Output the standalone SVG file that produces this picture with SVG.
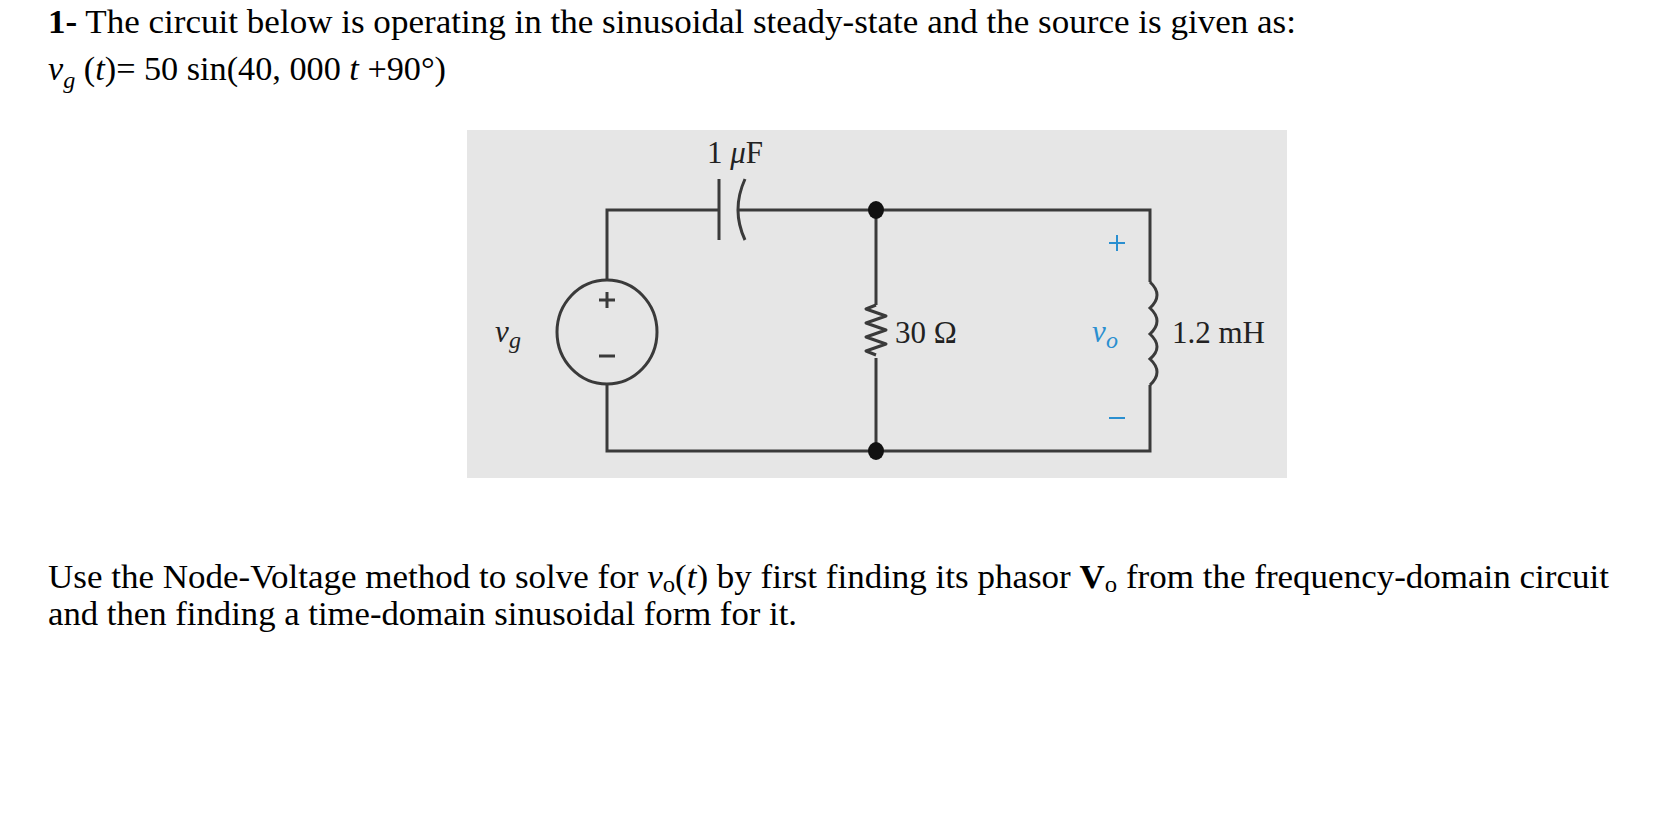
<svg xmlns="http://www.w3.org/2000/svg" width="1663" height="828" viewBox="0 0 1663 828">
<style>
.t{font-family:"Liberation Serif",serif;font-size:34px;fill:#000}
.w{stroke:#3a3a3a;stroke-width:3;fill:none}
.c{font-family:"Liberation Serif",serif;font-size:31px;fill:#222}
.b{fill:#2a8fd0}
</style>
<rect width="1663" height="828" fill="#fff"/>
<text class="t" x="48" y="33" textLength="1248" lengthAdjust="spacingAndGlyphs"><tspan font-weight="bold">1-</tspan> The circuit below is operating in the sinusoidal steady-state and the source is given as:</text>
<text class="t" x="48" y="80" textLength="398" lengthAdjust="spacingAndGlyphs"><tspan font-style="italic">v</tspan><tspan font-style="italic" font-size="24" dy="8">g</tspan><tspan dy="-8"> (</tspan><tspan font-style="italic">t</tspan>)= 50 sin(40, 000 <tspan font-style="italic">t</tspan> +90°)</text>
<rect x="467" y="130" width="820" height="348" fill="#e6e6e6"/>
<g id="connectors">
<path class="w" d="M607 280V210H719M737 210H876H1150V282M1150 385V451H607V384M876 210V305M876 358V451"/>
</g>
<g id="source">
<ellipse class="w" cx="607" cy="332" rx="50" ry="52"/>
<path class="w" stroke-width="2" d="M599 300h16M607 292v16M599 356h16"/>
<text class="c" x="508" y="342" text-anchor="middle" font-style="italic">v<tspan font-size="24" dy="6">g</tspan></text>
</g>
<g id="capacitor">
<path class="w" d="M719 179V240M745 179Q731 210 745 240"/>
<text class="c" x="735" y="163" text-anchor="middle">1 <tspan font-style="italic">μ</tspan>F</text>
</g>
<g id="resistor">
<path class="w" d="M876 305l-10 4l20 7l-20 7l20 7l-20 7l20 7l-20 7l10 4" stroke-linejoin="round"/>
<text class="c" x="895" y="343">30 Ω</text>
</g>
<g id="inductor">
<path class="w" d="M1150 282q14 13 0 26q14 13 0 26q14 13 0 25q14 13 0 26"/>
<text class="c" x="1172" y="343">1.2 mH</text>
<text class="c b" x="1105" y="342" text-anchor="middle" font-style="italic">v<tspan font-size="24" dy="6">o</tspan></text>
<path d="M1109 243h16M1117 235v16M1109 418h16" stroke="#2a8fd0" stroke-width="2"/>
</g>
<g id="nodes">
<ellipse cx="876" cy="210" rx="8" ry="9" fill="#111"/>
<ellipse cx="876" cy="451" rx="8" ry="9" fill="#111"/>
</g>
<text class="t" x="48" y="588" textLength="1561" lengthAdjust="spacingAndGlyphs">Use the Node-Voltage method to solve for <tspan font-style="italic">v</tspan><tspan font-size="24" dy="4">o</tspan><tspan dy="-4">(</tspan><tspan font-style="italic">t</tspan>) by first finding its phasor <tspan font-weight="bold">V</tspan><tspan font-size="24" dy="4">o</tspan><tspan dy="-4"> from the frequency-domain circuit</tspan></text>
<text class="t" x="48" y="625" textLength="749" lengthAdjust="spacingAndGlyphs">and then finding a time-domain sinusoidal form for it.</text>
</svg>
